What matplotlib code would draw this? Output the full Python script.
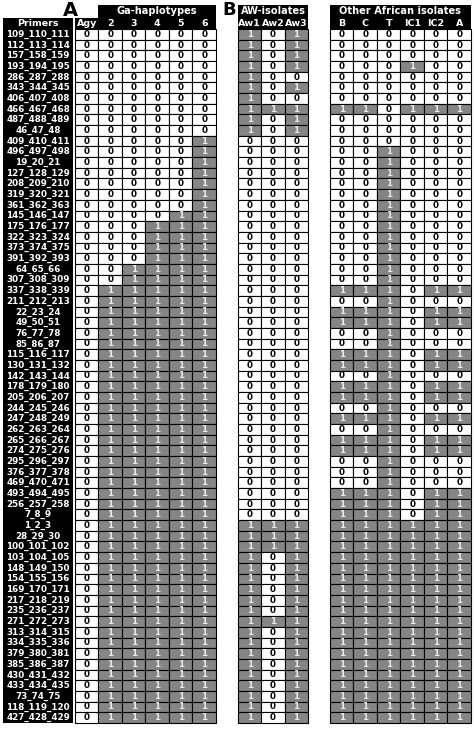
import matplotlib
matplotlib.use("Agg")
import matplotlib.pyplot as plt
from matplotlib.patches import Rectangle

primers = ["109_110_111","112_113_114","157_158_159","193_194_195","286_287_288","343_344_345",
"406_407_408","466_467_468","487_488_489","46_47_48","409_410_411","496_497_498","19_20_21",
"127_128_129","208_209_210","319_320_321","361_362_363","145_146_147","175_176_177","322_323_324",
"373_374_375","391_392_393","64_65_66","307_308_309","337_338_339","211_212_213","22_23_24",
"49_50_51","76_77_78","85_86_87","115_116_117","130_131_132","142_143_144","178_179_180",
"205_206_207","244_245_246","247_248_249","262_263_264","265_266_267","274_275_276","295_296_297",
"376_377_378","469_470_471","493_494_495","256_257_258","7_8_9","1_2_3","28_29_30","100_101_102",
"103_104_105","148_149_150","154_155_156","169_170_171","217_218_219","235_236_237","271_272_273",
"313_314_315","334_335_336","379_380_381","385_386_387","430_431_432","433_434_435","73_74_75",
"118_119_120","427_428_429"]

ga_cols = ["Agy","2","3","4","5","6"]
aw_cols = ["Aw1","Aw2","Aw3"]
oth_cols = ["B","C","T","IC1","IC2","A"]

Agy = "0"*65
H2 = "0"*24 + "1"*41
H3 = "0"*22 + "1"*43
H4 = "0"*18 + "1"*47
H5 = "0"*17 + "1"*48
H6 = "0"*10 + "1"*55
Aw1 = "1"*10 + "0"*36 + "1"*19
Aw2 = "0000000100" + "0"*36 + "111" + "000000" + "1" + "0"*9
Aw3 = "1111010111" + "0"*36 + "1"*19
BCA = "0000000100" + "0"*14 + "1011001101101011000111" + "1"*19
T = "0"*11 + "1"*54
IC1 = "0001000100" + "0"*36 + "1"*19

ga_vals = [Agy, H2, H3, H4, H5, H6]
aw_vals = [Aw1, Aw2, Aw3]
oth_vals = [BCA, BCA, T, IC1, BCA, BCA]

W, H = 474, 730
fig = plt.figure(figsize=(W/100, H/100), dpi=100)
ax = fig.add_axes([0, 0, 1, 1])
ax.set_xlim(0, W); ax.set_ylim(H, 0); ax.axis("off")

GRAY = "#858585"
y0 = 29.0
rh = (723.0 - y0) / 65
fs = 6.3

# primer column
ax.add_patch(Rectangle((3, 18), 70, 723 - 18, color="black", lw=0))
ax.text(38, 23.5, "Primers", color="white", fontsize=fs + 0.5, fontweight="bold", ha="center", va="center")
for i, p in enumerate(primers):
    ax.text(38, y0 + (i + 0.5) * rh, p, color="white", fontsize=fs, fontweight="bold", ha="center", va="center")

def block(x0, x1, cols, vals, title, title_x0):
    n = len(cols)
    cw = (x1 - x0) / n
    ax.add_patch(Rectangle((title_x0, 5), x1 - title_x0, 13, color="black", lw=0))
    ax.text((title_x0 + x1) / 2, 11.5, title, color="white", fontsize=fs + 0.8, fontweight="bold", ha="center", va="center")
    ax.add_patch(Rectangle((x0, 18), x1 - x0, 11, color="black", lw=0))
    for j, c in enumerate(cols):
        cx = x0 + (j + 0.5) * cw
        ax.text(cx, 23.5, c, color="white", fontsize=fs + 0.5, fontweight="bold", ha="center", va="center")
        for i, v in enumerate(vals[j]):
            one = v == "1"
            ax.add_patch(Rectangle((x0 + j * cw, y0 + i * rh), cw, rh, facecolor=GRAY if one else "white",
                                   edgecolor="black", lw=0.8))
            ax.text(cx, y0 + (i + 0.5) * rh, v, color="#e8e8e8" if one else "black", fontsize=fs,
                    fontweight="bold", ha="center", va="center")

block(75, 216, ga_cols, ga_vals, "Ga-haplotypes", 98)
block(238, 308, aw_cols, aw_vals, "AW-isolates", 238)
block(330, 471, oth_cols, oth_vals, "Other African isolates", 330)

ax.text(70, 10, "A", fontsize=14, fontweight="bold", ha="center", va="center")
ax.text(229, 10, "B", fontsize=13, fontweight="bold", ha="center", va="center")

fig.savefig("out.png", dpi=100)
